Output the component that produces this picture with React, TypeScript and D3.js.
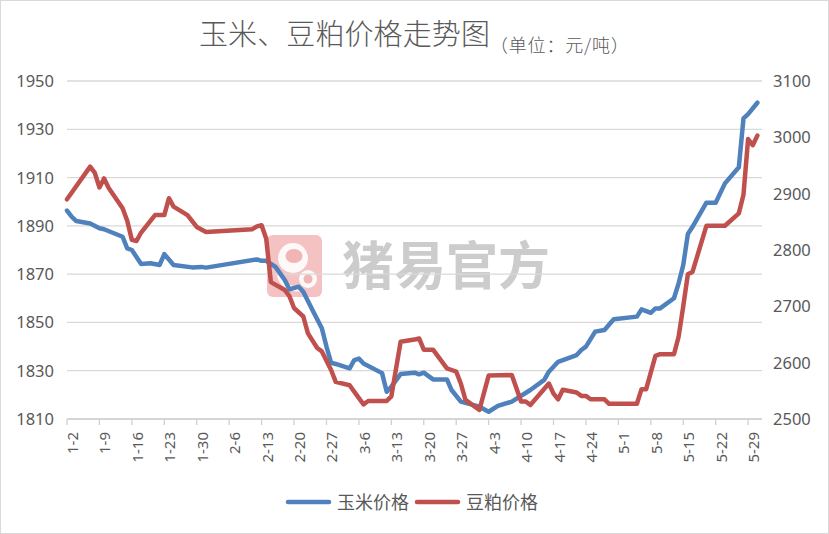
import React from "react";
import * as d3 from "d3";

const cornDates = ["1-2","1-3","1-4","1-7","1-9","1-10","1-14","1-15","1-16","1-18","1-20","1-22","1-23","1-25","1-29","1-31","2-1","2-12","2-13","2-14","2-16","2-18","2-19","2-21","2-22","2-24","2-26","2-27","2-28","3-1","3-4","3-5","3-6","3-7","3-11","3-12","3-13","3-15","3-18","3-19","3-20","3-22","3-25","3-26","3-28","4-1","4-3","4-5","4-8","4-12","4-15","4-16","4-18","4-22","4-23","4-24","4-26","4-28","4-30","5-5","5-6","5-8","5-9","5-10","5-13","5-14","5-15","5-16","5-17","5-20","5-22","5-24","5-27","5-28","5-29","5-31"];
const cornPrices = [1896.3,1893.8,1892,1891,1889,1888.6,1885.5,1880.7,1880,1874.2,1874.5,1873.8,1878.3,1873.8,1872.8,1873,1872.7,1876.1,1875.5,1875.5,1873,1867.6,1863.7,1864.8,1862.7,1855,1847.6,1840,1833.3,1832.8,1831,1834.4,1835,1833,1829,1821.3,1823.4,1828.6,1829.2,1828.5,1829.2,1826.4,1826.4,1822,1817.2,1815.1,1813,1815.4,1817.2,1822,1826.2,1829.6,1833.7,1836.5,1838.6,1840,1846.2,1846.9,1851.3,1852.4,1855.4,1854,1855.8,1855.8,1860,1866.2,1873.8,1886.6,1889.6,1899.6,1899.6,1907.6,1914.3,1934.5,1936.3,1941];

const mealDates = ["1-2","1-7","1-8","1-9","1-10","1-11","1-14","1-15","1-16","1-17","1-18","1-21","1-23","1-24","1-25","1-28","1-30","2-1","2-11","2-12","2-13","2-14","2-15","2-18","2-19","2-20","2-22","2-23","2-25","2-26","2-28","3-1","3-4","3-6","3-7","3-8","3-12","3-13","3-15","3-18","3-19","3-20","3-22","3-25","3-26","3-27","3-28","3-29","4-1","4-3","4-8","4-10","4-11","4-12","4-16","4-17","4-18","4-19","4-22","4-23","4-24","4-25","4-28","4-29","5-5","5-6","5-7","5-9","5-10","5-13","5-14","5-15","5-16","5-17","5-20","5-24","5-27","5-28","5-29","5-30","5-31"];
const mealPrices = [2890,2948,2937,2911,2927,2910,2874,2852,2818,2816,2831,2862,2862,2892,2877,2862,2841,2832,2837,2842,2844,2820,2743,2729,2718,2697,2682,2652,2626,2620,2587,2566,2560,2537,2526,2532,2532,2540,2637,2641,2643,2623,2623,2590,2587,2584,2563,2534,2516,2577,2578,2531,2531,2525,2563,2545,2535,2552,2547,2541,2541,2535,2535,2527,2527,2553,2553,2612,2615,2615,2646,2700,2757,2761,2843,2843,2865,2898,2997,2986,3003];

const xTickLabels = ["1-2","1-9","1-16","1-23","1-30","2-6","2-13","2-20","2-27","3-6","3-13","3-20","3-27","4-3","4-10","4-17","4-24","5-1","5-8","5-15","5-22","5-29"];
const leftTicks = [1810,1830,1850,1870,1890,1910,1930,1950];
const rightTicks = [2500,2600,2700,2800,2900,3000,3100];

const seriesNames = ["玉米价格", "豆粕价格"];
const titleMain = "玉米、豆粕价格走势图";
const titleSub = "（单位：元/吨）";
const watermarkText = "猪易官方";

const parseMD = (s: string) => {
  const [m, d] = s.split("-").map(Number);
  return new Date(2019, m - 1, d);
};

const W = 829, H = 534;
const L = 67, R = 762, T = 81, B = 419;
const BLUE = "#4f81bd", RED = "#c0504d";
const TXT = "#595959";
const NUMFONT = "'Noto Sans', 'Noto Sans CJK SC', sans-serif";
const CJK = "'Noto Sans CJK SC', 'Noto Sans', sans-serif";

export default function App() {
  const x = d3.scaleTime().domain([new Date(2019, 0, 2), new Date(2019, 5, 1)]).range([L, R]);
  const yL = d3.scaleLinear().domain([1810, 1950]).range([B, T]);
  const yR = d3.scaleLinear().domain([2500, 3100]).range([B, T]);

  const corn = cornDates.map((d, i) => ({ d: parseMD(d), v: cornPrices[i] }));
  const meal = mealDates.map((d, i) => ({ d: parseMD(d), v: mealPrices[i] }));

  const cornLine = d3.line<{ d: Date; v: number }>().x(p => x(p.d)).y(p => yL(p.v));
  const mealLine = d3.line<{ d: Date; v: number }>().x(p => x(p.d)).y(p => yR(p.v));

  return (
    <div style={{ position: "absolute", left: 0, top: 0 }}>
      <svg width={W} height={H} style={{ display: "block", background: "#fff" }}>
        <rect x={0.5} y={0.5} width={W - 1} height={H - 1} fill="#fff" stroke="#d9d9d9" />
        {/* title */}
        <text x={199} y={45} fill={TXT} fontFamily={CJK} fontWeight={300}>
          <tspan fontSize={29} letterSpacing={0.1}>{titleMain}</tspan>
          <tspan fontSize={18} dy={6.5} letterSpacing={0.8}>{titleSub}</tspan>
        </text>

        {/* watermark */}
        <g opacity={0.85}>
          <rect x={267} y={235} width={55} height={62} rx={6} fill="#f3b8b8" />
          <circle cx={293} cy={258} r={15} fill="#fff" opacity={0.9} />
          <ellipse cx={294} cy={256} rx={8.5} ry={7} fill="#f1a7a7" />
          <path d="M279,275 Q284,290 300,289" stroke="#fff" strokeWidth={5} fill="none" opacity={0.85} />
          <circle cx={308} cy={279} r={9} fill="#fff" opacity={0.9} />
          <circle cx={308} cy={279} r={4.5} fill="#f1a7a7" />
        </g>
        <text x={342} y={285} fontFamily={CJK} fontSize={52} fontWeight={700} fill="#c4c4c4" opacity={0.85}>
          {watermarkText}
        </text>

        {/* gridlines */}
        {leftTicks.map(t => (
          <line key={t} x1={L} x2={R} y1={yL(t)} y2={yL(t)} stroke="#d9d9d9" strokeWidth={1.3} />
        ))}

        {/* left axis labels */}
        {leftTicks.map(t => (
          <text key={"l" + t} x={54} y={yL(t)} dy="0.36em" textAnchor="end" fontFamily={NUMFONT} fontSize={16.5} fill={TXT}>
            {t}
          </text>
        ))}
        {/* right axis labels */}
        {rightTicks.map(t => (
          <text key={"r" + t} x={773} y={yR(t)} dy="0.36em" textAnchor="start" fontFamily={NUMFONT} fontSize={16.5} fill={TXT}>
            {t}
          </text>
        ))}

        {/* x axis */}
        <line x1={L} x2={R} y1={B} y2={B} stroke="#d0d0d0" strokeWidth={1.3} />
        {xTickLabels.map(lbl => {
          const xv = x(parseMD(lbl));
          return (
            <g key={lbl}>
              <line x1={xv} x2={xv} y1={B} y2={B + 6} stroke="#d0d0d0" strokeWidth={1.3} />
              <text
                transform={`translate(${xv + 11},${432}) rotate(-90)`}
                textAnchor="end"
                fontFamily={NUMFONT}
                fontSize={15}
                fill={TXT}
              >
                {lbl}
              </text>
            </g>
          );
        })}

        {/* series */}
        <path d={cornLine(corn) || ""} fill="none" stroke={BLUE} strokeWidth={4.5} strokeLinejoin="round" strokeLinecap="round" />
        <path d={mealLine(meal) || ""} fill="none" stroke={RED} strokeWidth={4.5} strokeLinejoin="round" strokeLinecap="round" />

        {/* legend */}
        <line x1={288} x2={329} y1={502} y2={502} stroke={BLUE} strokeWidth={4.5} strokeLinecap="round" />
        <text x={337} y={509} fontFamily={CJK} fontSize={18} fill={TXT}>{seriesNames[0]}</text>
        <line x1={417} x2={458} y1={502} y2={502} stroke={RED} strokeWidth={4.5} strokeLinecap="round" />
        <text x={466} y={509} fontFamily={CJK} fontSize={18} fill={TXT}>{seriesNames[1]}</text>
      </svg>
    </div>
  );
}
